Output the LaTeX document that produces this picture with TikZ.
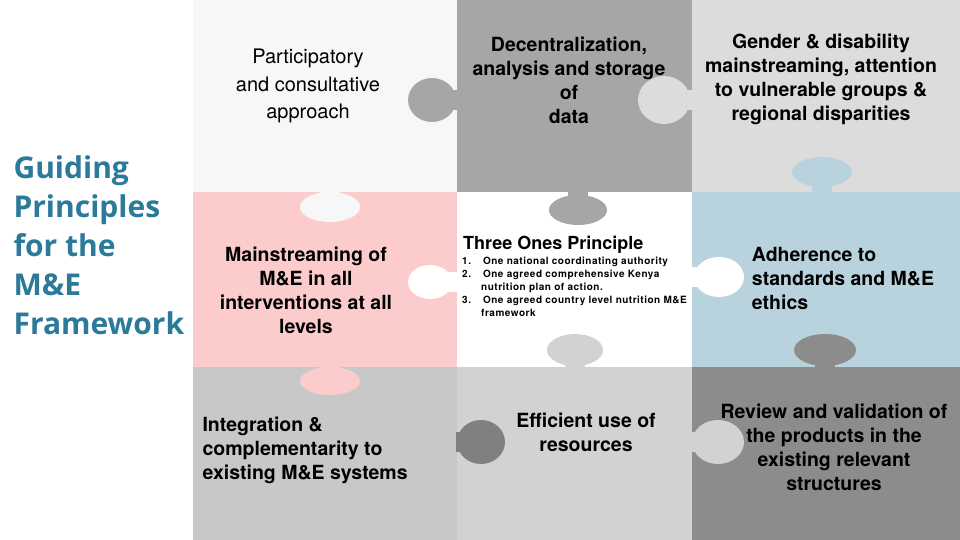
\documentclass[tikz,border=0pt]{standalone}
\usepackage{fontspec}
\setmainfont{TeX Gyre Heros}
\newfontfamily\gfont{Open Sans}
\newfontfamily\listfont[LetterSpace=5,BoldFeatures={LetterSpace=5}]{TeX Gyre Heros}
\begin{document}
\begin{tikzpicture}[x=1pt,y=-1pt,
 lbl/.style={align=center,font=\bfseries\fontsize{19.5}{24}\selectfont,text=black}]
\useasboundingbox (0,0) rectangle (960,540);
\fill[white] (0,0) rectangle (960,540);
\definecolor{c00}{HTML}{F7F7F7}\definecolor{c10}{HTML}{A6A6A6}\definecolor{c20}{HTML}{DCDCDC}
\definecolor{c01}{HTML}{FCCCCC}\definecolor{c11}{HTML}{FFFFFF}\definecolor{c21}{HTML}{B9D3DE}
\definecolor{c02}{HTML}{C8C8C8}\definecolor{c12}{HTML}{D2D2D2}\definecolor{c22}{HTML}{8C8C8C}
\definecolor{k11}{HTML}{808080}\definecolor{gtxt}{HTML}{2B7A99}
\fill[c00] (193,0) rectangle (457,192);
\fill[c10] (457,0) rectangle (692,192);
\fill[c20] (692,0) rectangle (960,192);
\fill[c01] (193,192) rectangle (457,367);
\fill[c11] (457,192) rectangle (692,367);
\fill[c21] (692,192) rectangle (960,367);
\fill[c02] (193,367) rectangle (457,540);
\fill[c12] (457,367) rectangle (692,540);
\fill[c22] (692,367) rectangle (960,540);
% knobs
\fill[c10] (432,100) ellipse [x radius=24,y radius=22]; \fill[c10] (445,90) rectangle (458,110);
\fill[c20] (664,100) ellipse [x radius=26,y radius=24]; \fill[c20] (680,90) rectangle (693,110);
\fill[c21] (822,172) ellipse [x radius=30,y radius=15]; \fill[c21] (812,178) rectangle (832,193);
\fill[c10] (578,210) ellipse [x radius=29,y radius=15]; \fill[c10] (568,190) rectangle (588,200);
\fill[c00] (330,207) ellipse [x radius=30,y radius=15]; \fill[c00] (320,190) rectangle (340,197);
\fill[c11] (430,282) ellipse [x radius=22,y radius=17]; \fill[c11] (444,272) rectangle (458,292);
\fill[c11] (719,277) ellipse [x radius=25,y radius=20]; \fill[c11] (690,267) rectangle (702,287);
\fill[c12] (575,350) ellipse [x radius=28,y radius=16]; \fill[c12] (565,360) rectangle (585,368);
\fill[c22] (825,350) ellipse [x radius=31,y radius=16]; \fill[c22] (815,360) rectangle (835,368);
\fill[c01] (330,381) ellipse [x radius=30,y radius=14]; \fill[c01] (320,365) rectangle (340,372);
\fill[k11] (481,442) ellipse [x radius=24,y radius=22]; \fill[k11] (456,432) rectangle (468,452);
\fill[c12] (718,442) ellipse [x radius=26,y radius=22]; \fill[c12] (690,432) rectangle (702,452);
% texts
\node[align=left,font=\gfont\bfseries\fontsize{30}{39}\selectfont,text=gtxt,anchor=west] (g) at (10,245) {Guiding\\Principles\\for the\\M\&E\\Framework};
\node[align=center,font=\fontsize{20}{27.5}\selectfont] (t00) at (308,86) {Participatory\\and consultative\\approach};
\node[lbl] (t10) at (569,80) {Decentralization,\\analysis and storage\\of\\data};
\node[lbl] (t20) at (821,79) {Gender \& disability\\mainstreaming, attention\\to vulnerable groups \&\\regional disparities};
\node[lbl] (t01) at (306,290) {Mainstreaming of\\M\&E in all\\interventions at all\\levels};
\node[font=\bfseries\fontsize{18}{20}\selectfont,anchor=west,inner sep=0] (t11) at (463,245) {Three Ones Principle};
\node[font=\listfont\bfseries\fontsize{10}{13}\selectfont,anchor=north west,align=left,inner sep=0] (l11) at (462,257)
 {1.\hspace{12pt}One national coordinating authority\\2.\hspace{12pt}One agreed comprehensive Kenya\\\hspace*{19pt}nutrition plan of action.\\3.\hspace{12pt}One agreed country level nutrition M\&E\\\hspace*{19pt}framework};
\node[lbl,align=left] (t21) at (843,278) {Adherence to\\standards and M\&E\\ethics};
\node[lbl,align=left,anchor=west] (t02) at (199,450) {Integration \&\\complementarity to\\existing M\&E systems};
\node[lbl] (t12) at (586,432) {Efficient use of\\resources};
\node[lbl] (t22) at (834,447) {Review and validation of\\the products in the\\existing relevant\\structures};
\end{tikzpicture}
\end{document}
